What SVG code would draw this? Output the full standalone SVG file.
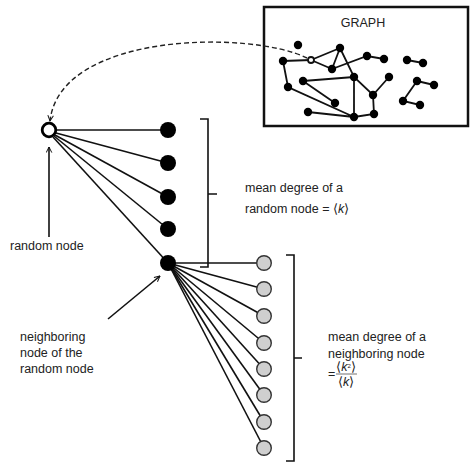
<svg xmlns="http://www.w3.org/2000/svg" width="474" height="474" viewBox="0 0 474 474">
<defs>
<style>
.t{font-family:"Liberation Sans",Arial,sans-serif;font-size:12.5px;fill:#222}
.e{stroke:#111;stroke-width:1.6;fill:none}
.g{stroke:#111;stroke-width:1.8;fill:none}
.bk{fill:#000}
.gy{fill:#cfcfcf;stroke:#333;stroke-width:1.4}
.br{stroke:#111;stroke-width:1.6;fill:none}
</style>
<marker id="ah" viewBox="0 0 10 10" refX="9" refY="5" markerWidth="7" markerHeight="7" orient="auto" markerUnits="userSpaceOnUse">
<path d="M1,1 L9,5 L1,9" fill="none" stroke="#111" stroke-width="1.4"/>
</marker>
</defs>
<rect width="474" height="474" fill="#fff"/>

<g id="graph">
<rect x="264" y="7" width="204" height="119" fill="#fff" stroke="#111" stroke-width="2.5"/>
<text x="363" y="27" class="t" text-anchor="middle" font-size="12">GRAPH</text>
<g class="g">
<path d="M283,61 L311,60 M311,60 L340,48 M311,60 L332,69 M340,48 L332,69 M332,69 L367,56 L384,59 M407,60 L423,63"/>
<path d="M283,61 L288,87 L354,117 M303,81 L354,77 M303,81 L335,103 M340,48 L354,77 L373,95 L389,77 M354,77 L354,117 M373,95 L374,114 L354,117 M308,112 L354,117 M417,81 L434,85 M417,81 L403,101 L420,105"/>
</g>
<g class="bk">
<circle cx="298" cy="45" r="4.2"/><circle cx="283" cy="61" r="4.2"/><circle cx="340" cy="48" r="4.2"/><circle cx="332" cy="69" r="4.2"/>
<circle cx="367" cy="56" r="4.2"/><circle cx="384" cy="59" r="4.2"/><circle cx="407" cy="60" r="4.2"/><circle cx="423" cy="63" r="4.2"/>
<circle cx="303" cy="81" r="4.2"/><circle cx="354" cy="77" r="4.2"/><circle cx="389" cy="77" r="4.2"/><circle cx="288" cy="87" r="4.2"/>
<circle cx="417" cy="81" r="4.2"/><circle cx="434" cy="85" r="4.2"/><circle cx="373" cy="95" r="4.2"/><circle cx="335" cy="103" r="4.2"/>
<circle cx="403" cy="101" r="4.2"/><circle cx="420" cy="105" r="4.2"/><circle cx="308" cy="112" r="4.2"/><circle cx="354" cy="117" r="4.2"/><circle cx="374" cy="114" r="4.2"/>
</g>
<circle cx="311" cy="60" r="3" fill="#fff" stroke="#111" stroke-width="1.8"/>
</g>

<g id="connectors">
<path d="M307,58 C250,30 60,32 50,121" fill="none" stroke="#222" stroke-width="1.4" stroke-dasharray="5,3" marker-end="url(#ah)"/>
<g class="e">
<line x1="57" y1="130" x2="168" y2="130"/>
<line x1="56" y1="133" x2="168" y2="163"/>
<line x1="55" y1="135" x2="168" y2="197"/>
<line x1="54" y1="136" x2="168" y2="229"/>
<line x1="53" y1="137" x2="168" y2="263"/>
<line x1="168" y1="263" x2="264" y2="263"/>
<line x1="168" y1="263" x2="264" y2="289"/>
<line x1="168" y1="263" x2="264" y2="316"/>
<line x1="168" y1="263" x2="264" y2="343"/>
<line x1="168" y1="263" x2="264" y2="369"/>
<line x1="168" y1="263" x2="264" y2="395"/>
<line x1="168" y1="263" x2="264" y2="422"/>
<line x1="168" y1="263" x2="264" y2="448"/>
</g>
<line x1="49" y1="237" x2="49" y2="147" class="e" stroke-width="1.4" marker-end="url(#ah)"/>
<line x1="108" y1="319" x2="160" y2="276" class="e" stroke-width="1.4" marker-end="url(#ah)"/>
</g>

<g id="random-node">
<circle cx="49" cy="130" r="6.8" fill="#fff" stroke="#000" stroke-width="2.8"/>
<text x="10" y="250" class="t">random node</text>
</g>

<g id="neighbors">
<circle cx="168" cy="130" r="8" class="bk"/>
<circle cx="168" cy="163" r="8" class="bk"/>
<circle cx="168" cy="197" r="8" class="bk"/>
<circle cx="168" cy="229" r="8" class="bk"/>
<circle cx="168" cy="263" r="8" class="bk"/>
</g>

<g id="second-neighbors">
<circle cx="264" cy="263" r="7.3" class="gy"/>
<circle cx="264" cy="289" r="7.3" class="gy"/>
<circle cx="264" cy="316" r="7.3" class="gy"/>
<circle cx="264" cy="343" r="7.3" class="gy"/>
<circle cx="264" cy="369" r="7.3" class="gy"/>
<circle cx="264" cy="395" r="7.3" class="gy"/>
<circle cx="264" cy="422" r="7.3" class="gy"/>
<circle cx="264" cy="448" r="7.3" class="gy"/>
</g>

<g id="bracket-1">
<path class="br" d="M200,119 L208,119 L208,267 L200,267 M208,194 L217,194"/>
<text class="t"><tspan x="245" y="192">mean degree of a</tspan><tspan x="245" y="213">random node = ⟨<tspan font-style="italic">k</tspan>⟩</tspan></text>
</g>

<g id="bracket-2">
<path class="br" d="M286,255 L294,255 L294,461 L286,461 M294,358 L302,358"/>
<text class="t"><tspan x="328" y="341">mean degree of a</tspan><tspan x="328" y="358">neighboring node</tspan></text>
<text x="328" y="378" class="t" font-size="10">=</text>
<text x="346" y="371" class="t" font-size="9" text-anchor="middle">⟨<tspan font-style="italic">k</tspan><tspan font-size="6" dy="-3">2</tspan><tspan dy="3">⟩</tspan></text>
<line x1="336" y1="374" x2="357" y2="374" stroke="#333" stroke-width="0.7"/>
<text x="346" y="386" class="t" font-size="9" text-anchor="middle">⟨<tspan font-style="italic">k</tspan>⟩</text>
</g>

<g id="neighbor-label">
<text class="t"><tspan x="20" y="341">neighboring</tspan><tspan x="20" y="357">node of the</tspan><tspan x="20" y="373">random node</tspan></text>
</g>
</svg>
